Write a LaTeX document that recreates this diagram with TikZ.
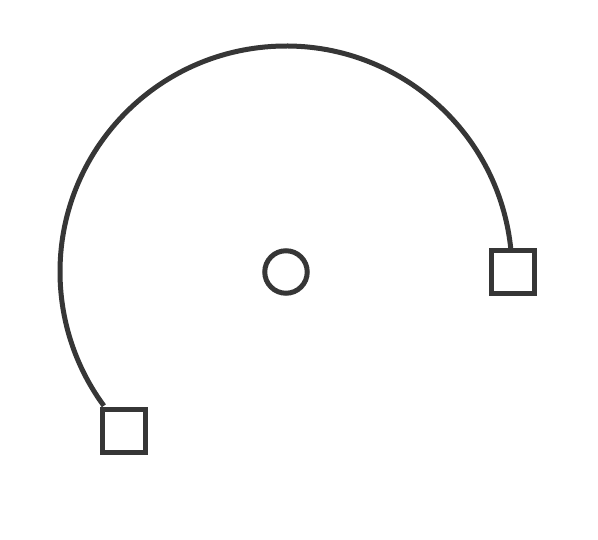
\documentclass[tikz,border=0pt]{standalone}
\definecolor{ink}{HTML}{363636}
\begin{document}
\begin{tikzpicture}[x=1pt,y=1pt,
  sq/.style={draw=ink, line width=5pt, minimum size=42.5pt, inner sep=0pt, shape=rectangle},
  hub/.style={draw=ink, line width=5pt, minimum size=42.5pt, inner sep=0pt, shape=circle},
  link/.style={draw=ink, line width=5pt}]
\useasboundingbox (0,0) rectangle (598,540);
\coordinate (c) at (286,268);
\node[hub] (h) at (c) {};
\node[sq] (rs) at (513,268) {};
\node[sq] (ls) at (124,109) {};
\draw[link] ([shift={(c)}]5.4:226) arc[start angle=5.4, end angle=216.3, radius=226];
\end{tikzpicture}
\end{document}
